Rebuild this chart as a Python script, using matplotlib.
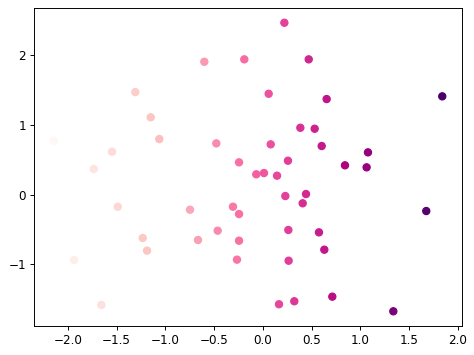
import matplotlib
matplotlib.use("Agg")
import numpy as np
import matplotlib.pyplot as plt

# point positions
x = np.array([-0.600, -0.190, -1.308, -1.150, -2.145, -1.062, -0.477, -1.547, -1.734, -0.244,
              0.221, 0.471, 0.060, 0.655, 1.841, 0.385, 0.532, 0.604, 0.081, 1.079,
              0.843, 1.065, 0.258, -0.067, 0.012, 0.146, 0.231, 0.443, 0.409, 1.677,
              0.262, 0.576, 0.631, 0.265, 0.713, 0.166, 0.323, 1.339, -1.488, -0.747,
              -0.306, -0.244, -0.463, -0.665, -1.232, -1.188, -0.244, -0.265, -1.936, -1.656])
y = np.array([1.905, 1.940, 1.470, 1.108, 0.772, 0.796, 0.734, 0.614, 0.366, 0.462,
              2.465, 1.940, 1.446, 1.370, 1.409, 0.958, 0.944, 0.696, 0.720, 0.605,
              0.419, 0.390, 0.485, 0.290, 0.308, 0.270, -0.022, 0.007, -0.126, -0.237,
              -0.509, -0.543, -0.792, -0.950, -1.466, -1.575, -1.532, -1.676, -0.175, -0.218,
              -0.175, -0.280, -0.519, -0.653, -0.624, -0.806, -0.663, -0.935, -0.940, -1.585])

fig = plt.figure(figsize=(474 / 86, 355 / 86), dpi=86)
ax = fig.add_axes([0.0724, 0.0825, 0.9016, 0.894])
ax.scatter(x, y, c=x, cmap="RdPu")

fig.savefig("out.png", dpi=86)
